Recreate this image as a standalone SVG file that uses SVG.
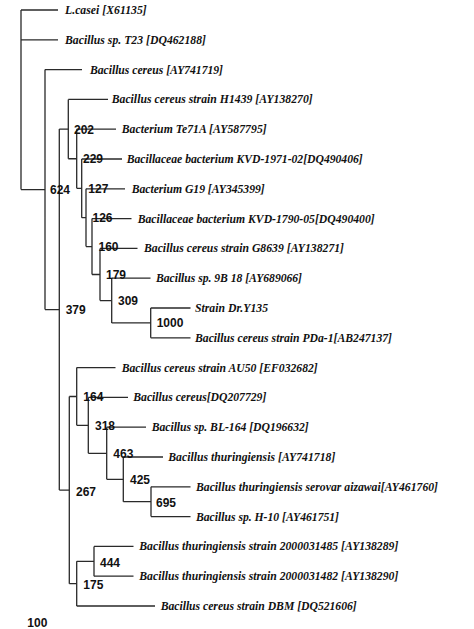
<svg xmlns="http://www.w3.org/2000/svg" width="474" height="629" viewBox="0 0 474 629">
<style>
.leaf{font-family:"Liberation Serif","Times New Roman",serif;font-weight:bold;font-style:italic;font-size:11.7px;fill:#111}
.bs{font-family:"Liberation Sans",Arial,sans-serif;font-weight:bold;font-size:12px;fill:#111}
.br{fill:none;stroke:#2a2a2a;stroke-width:1.3}
</style>
<rect width="474" height="629" fill="#fff"/>
<g id="connectors" class="br">
<path d="M21 10V189.6M45 69.6V309.6M59.3 129.1V490.1M68.3 99.4V158.75M76.7 129.2V188.3M81.7 159V217.7M86 188.8V246.55M92 218.6V274.5M100 248.4V300.55M111.7 278.2V322.9M150.7 308V337.8M69.3 396.5V583.65M76.7 367.6V425.35M88.3 397.4V453.3M106.7 427.2V479.35M123.3 457V501.7M151 486.8V516.6M76.7 561.3V606M94 546.4V576.2"/>
<path d="M21 189.6H45M45 309.6H59.3M59.3 129.1H68.3M68.3 158.75H76.7M76.7 188.3H81.7M81.7 217.7H86M86 246.55H92M92 274.5H100M100 300.55H111.7M111.7 322.9H150.7M59.3 490.1H69.3M69.3 396.5H76.7M76.7 425.35H88.3M88.3 453.3H106.7M106.7 479.35H123.3M123.3 501.7H151M69.3 583.65H76.7M76.7 561.3H94"/>
<path d="M21 10H58M21 39.8H58M45 69.6H82M68.3 99.4H108M76.7 129.2H116M81.7 159H122M86 188.8H125M92 218.6H131.5M100 248.4H137.5M111.7 278.2H150.5M150.7 308H190.5M150.7 337.8H190.5M76.7 367.6H115.5M88.3 397.4H128M106.7 427.2H146M123.3 457H163M151 486.8H190.5M151 516.6H190.5M94 546.4H133.5M94 576.2H133.5M76.7 606H155"/>
</g>
<g id="leaf-X61135"><text class="leaf" x="65" y="14" textLength="81.7">L.casei [X61135]</text></g>
<g id="leaf-DQ462188"><text class="leaf" x="65" y="43.8" textLength="141">Bacillus sp. T23 [DQ462188]</text></g>
<g id="leaf-AY741719"><text class="leaf" x="90" y="73.6" textLength="133">Bacillus cereus [AY741719]</text></g>
<g id="leaf-AY138270"><text class="leaf" x="111.7" y="103.4" textLength="201">Bacillus cereus strain H1439 [AY138270]</text></g>
<g id="leaf-AY587795"><text class="leaf" x="121.7" y="133.2" textLength="145">Bacterium Te71A [AY587795]</text></g>
<g id="leaf-DQ490406"><text class="leaf" x="126.7" y="163" textLength="236">Bacillaceae bacterium KVD-1971-02[DQ490406]</text></g>
<g id="leaf-AY345399"><text class="leaf" x="131.7" y="192.8" textLength="133">Bacterium G19 [AY345399]</text></g>
<g id="leaf-DQ490400"><text class="leaf" x="137.7" y="222.6" textLength="237">Bacillaceae bacterium KVD-1790-05[DQ490400]</text></g>
<g id="leaf-AY138271"><text class="leaf" x="144" y="252.4" textLength="200">Bacillus cereus strain G8639 [AY138271]</text></g>
<g id="leaf-AY689066"><text class="leaf" x="156" y="282.2" textLength="146">Bacillus sp. 9B 18 [AY689066]</text></g>
<g id="leaf-DrY135"><text class="leaf" x="195" y="312" textLength="73">Strain Dr.Y135</text></g>
<g id="leaf-AB247137"><text class="leaf" x="195" y="341.8" textLength="197">Bacillus cereus strain PDa-1[AB247137]</text></g>
<g id="leaf-EF032682"><text class="leaf" x="121.7" y="371.6" textLength="196">Bacillus cereus strain AU50 [EF032682]</text></g>
<g id="leaf-DQ207729"><text class="leaf" x="133.3" y="401.4" textLength="133">Bacillus cereus[DQ207729]</text></g>
<g id="leaf-DQ196632"><text class="leaf" x="151.7" y="431.2" textLength="157">Bacillus sp. BL-164 [DQ196632]</text></g>
<g id="leaf-AY741718"><text class="leaf" x="168.3" y="461" textLength="167">Bacillus thuringiensis [AY741718]</text></g>
<g id="leaf-AY461760"><text class="leaf" x="196" y="490.8" textLength="242">Bacillus thuringiensis serovar aizawai[AY461760]</text></g>
<g id="leaf-AY461751"><text class="leaf" x="196" y="520.6" textLength="143">Bacillus sp. H-10 [AY461751]</text></g>
<g id="leaf-AY138289"><text class="leaf" x="139.3" y="550.4" textLength="259">Bacillus thuringiensis strain 2000031485 [AY138289]</text></g>
<g id="leaf-AY138290"><text class="leaf" x="139.3" y="580.2" textLength="259">Bacillus thuringiensis strain 2000031482 [AY138290]</text></g>
<g id="leaf-DQ521606"><text class="leaf" x="160.7" y="610" textLength="196">Bacillus cereus strain DBM [DQ521606]</text></g>
<g id="node-624"><text class="bs" x="50" y="194">624</text></g>
<g id="node-379"><text class="bs" x="65.7" y="314">379</text></g>
<g id="node-202"><text class="bs" x="74" y="133.5">202</text></g>
<g id="node-229"><text class="bs" x="83" y="163">229</text></g>
<g id="node-127"><text class="bs" x="88.3" y="192.5">127</text></g>
<g id="node-126"><text class="bs" x="92.5" y="222">126</text></g>
<g id="node-160"><text class="bs" x="98.5" y="251">160</text></g>
<g id="node-179"><text class="bs" x="106" y="279">179</text></g>
<g id="node-309"><text class="bs" x="118" y="305">309</text></g>
<g id="node-1000"><text class="bs" x="156.7" y="327.3">1000</text></g>
<g id="node-164"><text class="bs" x="83.3" y="401">164</text></g>
<g id="node-318"><text class="bs" x="95" y="430">318</text></g>
<g id="node-463"><text class="bs" x="113.3" y="458">463</text></g>
<g id="node-425"><text class="bs" x="130" y="484">425</text></g>
<g id="node-695"><text class="bs" x="156" y="506.5">695</text></g>
<g id="node-267"><text class="bs" x="76" y="496">267</text></g>
<g id="node-444"><text class="bs" x="100" y="566.5">444</text></g>
<g id="node-175"><text class="bs" x="83.3" y="589">175</text></g>
<g id="scale-100"><text class="bs" x="27.3" y="627">100</text></g>
</svg>
